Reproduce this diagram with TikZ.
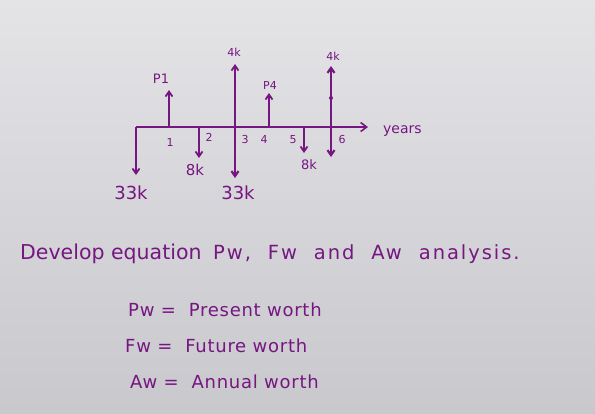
\documentclass[tikz,border=0pt]{standalone}
\usepackage{fontspec}
\setmainfont{DejaVu Sans}
\newfontfamily\widefont[LetterSpace=10]{DejaVu Sans}
\newfontfamily\medfont[LetterSpace=4]{DejaVu Sans}
\usetikzlibrary{arrows.meta}
\definecolor{ink}{RGB}{118,22,128}
\definecolor{bgtop}{RGB}{228,228,231}
\definecolor{bgbot}{RGB}{200,200,205}
\tikzset{
  flow/.style={ink, line width=1.8pt, -{Straight Barb[length=5pt,width=7pt]}},
  axisline/.style={ink, line width=1.6pt, -{Straight Barb[length=6pt,width=9pt]}},
  lbl/.style={text=ink, inner sep=0pt, font=\fontsize{11}{12}\selectfont},
  para/.style={text=ink, inner sep=0pt, anchor=west},
  defn/.style={text=ink, inner sep=0pt, anchor=west, font=\medfont\fontsize{18}{20}\selectfont}
}
\begin{document}
\begin{tikzpicture}[x=1pt,y=-1pt]
\shade[top color=bgtop, bottom color=bgbot] (0,0) rectangle (595,413);
\useasboundingbox (0,0) rectangle (595,413);
% axis
\coordinate (a0) at (136,127);
\coordinate (aend) at (368,127);
\draw[axisline] (a0) -- (aend);
\node[lbl, anchor=west, font=\fontsize{14}{16}\selectfont] (years) at (383,131) {years};
% tick points
\coordinate (t1) at (169,127);
\coordinate (t2) at (199,127);
\coordinate (t3) at (235,127);
\coordinate (t4) at (269,127);
\coordinate (t5) at (304,127);
\coordinate (t6) at (331,127);
% arrow ends
\coordinate (d0) at (136,175);
\coordinate (u1) at (169,90);
\coordinate (d2) at (199,158);
\coordinate (u3) at (235,64);
\coordinate (d3) at (235,178);
\coordinate (u4) at (269,93);
\coordinate (d5) at (304,153);
\coordinate (u6) at (331,66);
\coordinate (d6) at (331,157);
\draw[flow] (a0) -- (d0);
\draw[flow] (t1) -- (u1);
\draw[flow] (t2) -- (d2);
\draw[flow] (t3) -- (u3);
\draw[flow, line width=2.2pt] (t3) -- (d3);
\draw[flow] (t4) -- (u4);
\draw[flow] (t5) -- (d5);
\draw[flow, line width=2.2pt] (t6) -- (u6);
\draw[flow, line width=2.2pt] (t6) -- (d6);
\fill[ink] (331,98) circle (2pt);
% tick labels
\node[lbl] (n1) at (170,142) {1};
\node[lbl] (n2) at (209,137) {2};
\node[lbl] (n3) at (245,139) {3};
\node[lbl] (n4) at (264,139) {4};
\node[lbl] (n5) at (293,140) {5};
\node[lbl] (n6) at (342,139) {6};
% value labels
\node[lbl, font=\fontsize{18}{20}\selectfont] (v33a) at (131,193) {33k};
\node[lbl, font=\fontsize{18}{20}\selectfont] (v33b) at (238,193) {33k};
\node[lbl, font=\fontsize{15}{17}\selectfont] (v8a) at (195,170) {8k};
\node[lbl, font=\fontsize{13}{15}\selectfont] (v8b) at (309,165) {8k};
\node[lbl, font=\fontsize{13}{15}\selectfont] (p1) at (161,79) {P1};
\node[lbl, font=\fontsize{11}{12}\selectfont] (p4) at (270,85) {P4};
\node[lbl, font=\fontsize{11}{12}\selectfont] (k4a) at (234,52) {4k};
\node[lbl, font=\fontsize{11}{12}\selectfont] (k4b) at (333,56) {4k};
% text
\node[para, font=\fontsize{20.5}{22}\selectfont] (dev) at (20,254) {Develop equation};
\node[para, font=\widefont\fontsize{19.5}{22}\selectfont] (dev2) at (213,254) {Pw,\hspace{0.45em} Fw\hspace{0.45em} and\hspace{0.45em} Aw\hspace{0.45em} analysis.};
\node[defn] (pw) at (128,310) {Pw = \ Present worth};
\node[defn] (fw) at (125,346) {Fw = \ Future worth};
\node[defn] (aw) at (130,382) {Aw = \ Annual worth};
\end{tikzpicture}
\end{document}
